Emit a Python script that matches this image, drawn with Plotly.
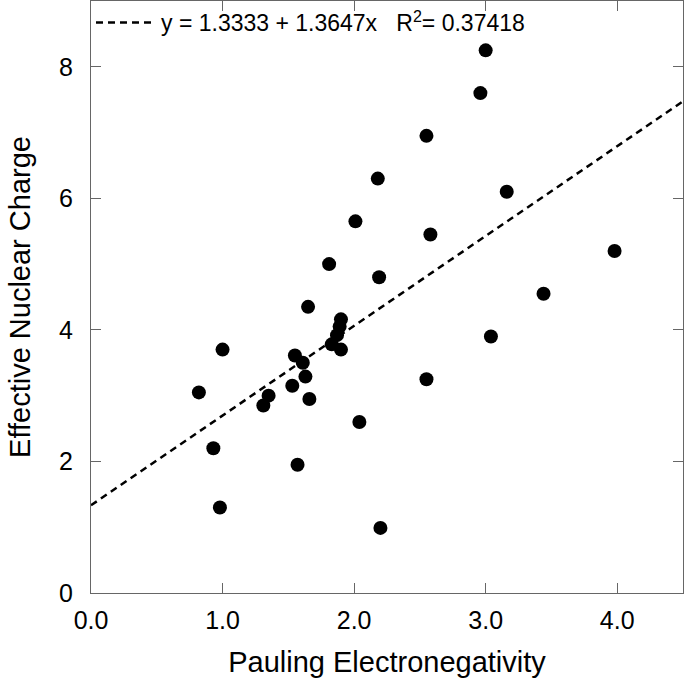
import plotly.graph_objects as go

# Pauling electronegativity vs effective nuclear charge
electroneg = [0.82, 0.93, 0.98, 1.00, 1.31, 1.35, 1.53, 1.55, 1.57, 1.61, 1.63,
              1.65, 1.66, 1.81, 1.83, 1.87, 1.89, 1.90, 1.90, 2.01, 2.04, 2.18,
              2.19, 2.20, 2.55, 2.55, 2.58, 2.96, 3.00, 3.04, 3.16, 3.44, 3.98]
zeff = [3.05, 2.20, 1.30, 3.70, 2.85, 3.00, 3.15, 3.61, 1.95, 3.50, 3.29,
        4.35, 2.95, 5.00, 3.78, 3.92, 4.05, 4.16, 3.70, 5.65, 2.60, 6.30,
        4.80, 0.99, 3.25, 6.95, 5.45, 7.60, 8.25, 3.90, 6.10, 4.55, 5.20]

# fit shown in the chart legend
intercept = 1.3333
slope = 1.3647
r_squared = 0.37418

x_range = [0, 4.5]
y_range = [0, 9]
x_ticks = [0, 1, 2, 3, 4]
x_tick_labels = ["0.0", "1.0", "2.0", "3.0", "4.0"]
y_ticks = [0, 2, 4, 6, 8]

font = "Liberation Sans, Arial, sans-serif"
axis_gray = "#666666"

fit_x = x_range
fit_y = [intercept + slope * v for v in fit_x]

fig = go.Figure()

fig.add_trace(go.Scatter(
    x=fit_x,
    y=fit_y,
    mode="lines",
    line=dict(color="black", width=2.5, dash="7px,5px"),
    name=f"y = {intercept:.4f} + {slope:.4f}x\u00a0\u00a0\u00a0R<sup>2</sup>= {r_squared:.5f}",
    showlegend=True,
))

fig.add_trace(go.Scatter(
    x=electroneg,
    y=zeff,
    mode="markers",
    marker=dict(color="black", size=14),
    showlegend=False,
))

axis_common = dict(
    showline=True,
    linecolor=axis_gray,
    linewidth=1,
    mirror="allticks",
    ticks="inside",
    ticklen=10,
    tickwidth=1,
    tickcolor=axis_gray,
    showgrid=False,
    zeroline=False,
    tickfont=dict(size=25, color="black"),
)

fig.update_xaxes(
    range=x_range,
    tickvals=x_ticks,
    ticktext=x_tick_labels,
    ticklabelstandoff=5,
    title=dict(text="Pauling Electronegativity", font=dict(size=29, color="black"), standoff=18),
    **axis_common,
)
fig.update_yaxes(
    range=y_range,
    tickvals=y_ticks,
    ticklabelstandoff=12,
    title=dict(text="Effective Nuclear Charge", font=dict(size=29, color="black"), standoff=19),
    **axis_common,
)

fig.update_layout(
    width=685,
    height=679,
    margin=dict(l=91, r=2, t=1, b=86),
    paper_bgcolor="white",
    plot_bgcolor="white",
    font=dict(family=font, color="black"),
    legend=dict(
        x=0.0,
        y=1.0,
        xanchor="left",
        yanchor="top",
        bgcolor="rgba(0,0,0,0)",
        font=dict(size=23, color="black"),
        itemwidth=60,
    ),
)

# drop the default page margin so the figure sits at the window's corner
fig.write_html(
    "out.html",
    config={"displayModeBar": False},
    post_script="document.body.style.margin='0';",
)
